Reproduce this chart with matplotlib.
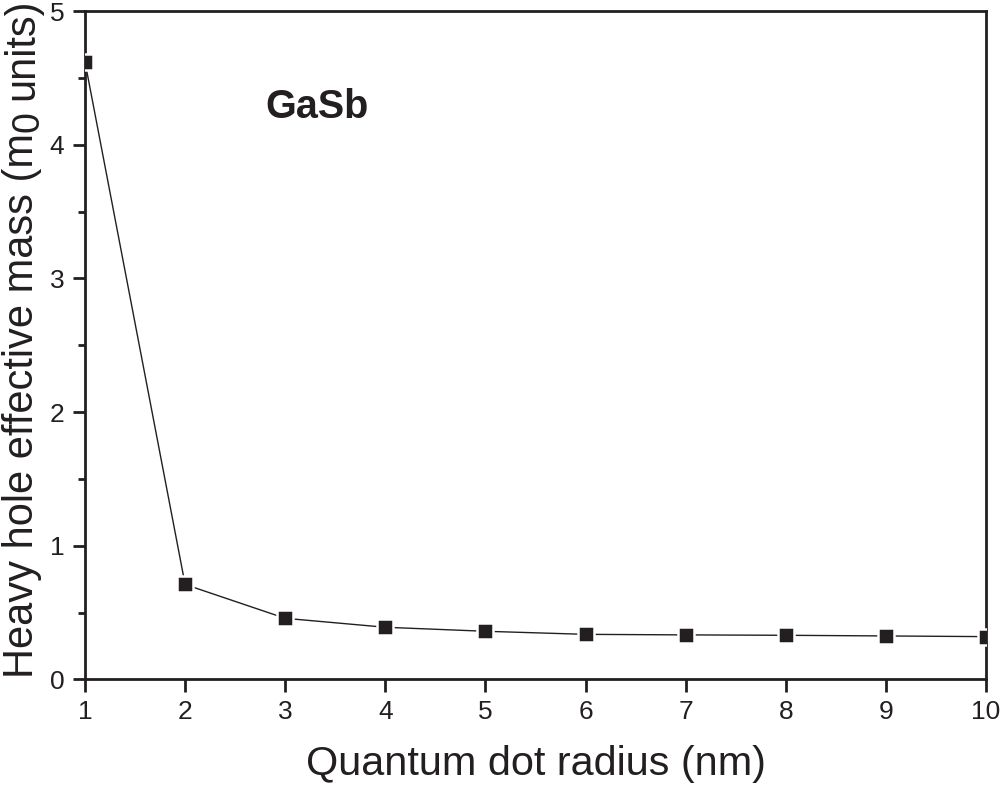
import matplotlib
matplotlib.use("Agg")
import matplotlib.pyplot as plt
from matplotlib.ticker import MultipleLocator
from matplotlib.transforms import IdentityTransform

plt.rcParams['font.family'] = ['Liberation Sans', 'DejaVu Sans']

radius_nm = [1, 2, 3, 4, 5, 6, 7, 8, 9, 10]
hh_mass = [4.62, 0.71, 0.457, 0.39, 0.36, 0.337, 0.333, 0.33, 0.325, 0.32]

INK = '#231f20'
fig = plt.figure(figsize=(10, 7.9), dpi=100)
ax = fig.add_axes([0.085, 0.14, 0.901, 0.846])

ax.plot(radius_nm, hh_mass, color=INK, lw=1.0, marker='s', ms=11,
        mfc=INK, mec='white', mew=1.8, clip_on=True, zorder=3)

ax.set_xlim(1, 10)
ax.set_ylim(0, 5)
ax.xaxis.set_major_locator(MultipleLocator(1))
ax.yaxis.set_major_locator(MultipleLocator(1))
ax.yaxis.set_minor_locator(MultipleLocator(0.5))
ax.tick_params(axis='both', which='major', direction='out', length=9, width=2,
               labelsize=19, color=INK, labelcolor=INK, pad=6)
ax.tick_params(axis='y', which='minor', direction='out', length=5, width=2,
               color=INK)
ax.tick_params(top=False, right=False)
for s in ax.spines.values():
    s.set_linewidth(2)
    s.set_color(INK)

ax.set_xlabel('Quantum dot radius (nm)', fontsize=29.8, color=INK, labelpad=15)

# y label built from pieces so the subscript 0 is large, as in the original
ylab_parts = ['Heavy hole effective mass (m', '0', 'units)']
renderer = fig.canvas.get_renderer()
H = 790
x_base = 33
y_pos = H - 678
kw = dict(rotation=90, rotation_mode='anchor', ha='left', va='baseline',
          color=INK, transform=IdentityTransform())
t1 = fig.text(x_base, y_pos, ylab_parts[0], fontsize=30, **kw)
y_pos += t1.get_window_extent(renderer).height + 1
t2 = fig.text(x_base + 5, y_pos, ylab_parts[1], fontsize=27, **kw)
y_pos += t2.get_window_extent(renderer).height + 11
fig.text(x_base, y_pos, ylab_parts[2], fontsize=30, **kw)

ax.text(2.8, 4.2, 'GaSb', fontsize=28.5, fontweight='bold', color=INK)

fig.savefig('out.png', dpi=100, facecolor='white')
